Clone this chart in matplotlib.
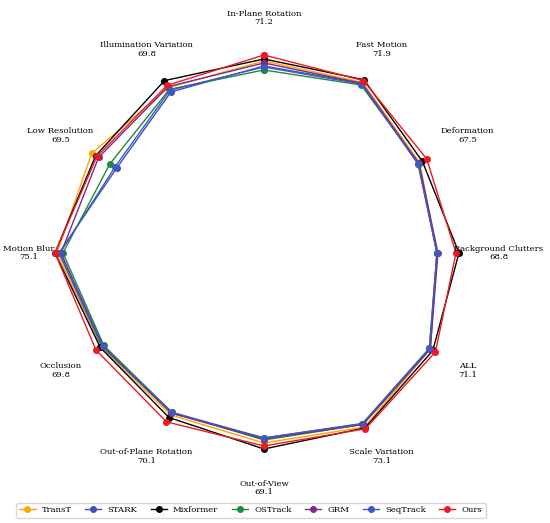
import numpy as np
import matplotlib
matplotlib.use("Agg")
import matplotlib.pyplot as plt

plt.rcParams['font.family'] = ['DejaVu Serif']

# attributes clockwise from the top, with the score shown under each name
attributes = ["In-Plane Rotation", "Fast Motion", "Deformation", "Background Clutters",
              "ALL", "Scale Variation", "Out-of-View", "Out-of-Plane Rotation",
              "Occlusion", "Motion Blur", "Low Resolution", "Illumination Variation"]
attr_scores = ["71.2", "71.9", "67.5", "68.8", "71.1", "73.1",
               "69.1", "70.1", "69.8", "75.1", "69.5", "69.8"]

# normalised radius per attribute
transt    = [0.960, 0.985, 0.900, 0.865, 0.960, 1.005, 0.950, 0.935, 0.940, 1.035, 0.995, 0.955]
stark     = [0.935, 0.980, 0.890, 0.865, 0.955, 0.985, 0.925, 0.925, 0.935, 1.025, 0.850, 0.930]
mixformer = [0.970, 1.000, 0.915, 0.975, 0.975, 1.010, 0.980, 0.950, 0.945, 1.045, 0.972, 0.995]
ostrack   = [0.915, 0.970, 0.895, 0.865, 0.960, 0.990, 0.935, 0.920, 0.925, 1.005, 0.890, 0.945]
grm       = [0.950, 0.980, 0.895, 0.870, 0.960, 0.990, 0.930, 0.925, 0.930, 1.015, 0.955, 0.960]
seqtrack  = [0.930, 0.975, 0.890, 0.865, 0.955, 0.985, 0.925, 0.920, 0.932, 1.020, 0.860, 0.940]
ours      = [0.990, 0.995, 0.940, 0.960, 0.990, 1.015, 0.965, 0.975, 0.970, 1.045, 0.965, 0.968]

methods = ["TransT", "STARK", "Mixformer", "OSTrack", "GRM", "SeqTrack", "Ours"]
series = [transt, stark, mixformer, ostrack, grm, seqtrack, ours]
colors = ["#FFA500", "#3A52B8", "#000000", "#1E8A3E", "#7D2A8A", "#4059BD", "#F01820"]

n = len(attributes)
angles = np.linspace(0, 2 * np.pi, n, endpoint=False)
angles_closed = np.append(angles, angles[0])

fig = plt.figure(figsize=(5.5, 5.23), dpi=100)
ax = fig.add_axes([0.0436, 0.0574, 0.8727, 0.9178], polar=True)
ax.set_theta_offset(np.pi / 2)
ax.set_theta_direction(-1)
ax.set_ylim(0, 1.2)

for name, vals, c in zip(methods, series, colors):
    v = np.append(vals, vals[0])
    ax.plot(angles_closed, v, color=c, linewidth=1.0, marker='o', markersize=4, label=name)

for a, name, s in zip(angles, attributes, attr_scores):
    ax.text(a, 1.175, name + "\n" + s, ha='center', va='center', fontsize=6.1,
            linespacing=1.15, clip_on=False)

ax.set_axis_off()

fig.legend(loc='center', bbox_to_anchor=(0.456, 0.024), ncol=7, fontsize=6.1,
           handlelength=1.9, columnspacing=1.6, handletextpad=0.72,
           borderpad=0.4, frameon=True)

plt.savefig("out.png", dpi=100)
